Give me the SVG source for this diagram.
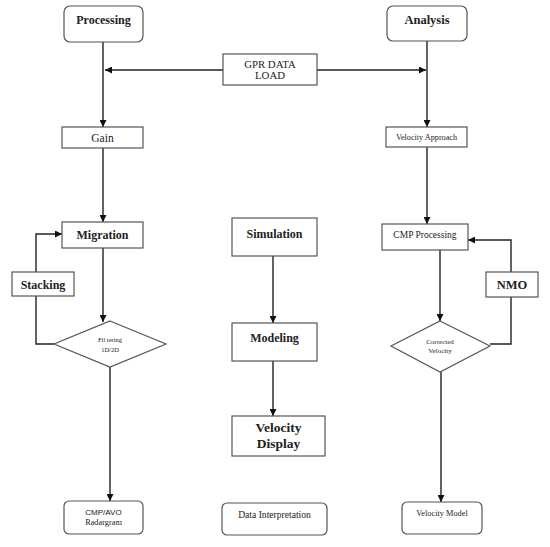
<svg xmlns="http://www.w3.org/2000/svg" width="550" height="547" viewBox="0 0 550 547">
<style>
.box{fill:#fff;stroke:#555;stroke-width:1.2}
.t{font-family:"Liberation Serif","Times New Roman",serif;fill:#222;text-anchor:middle}
.b{font-weight:bold}
.s{font-family:"Liberation Sans",Arial,sans-serif}
.c line,.c polyline{stroke:#222;stroke-width:1.4;fill:none}
</style>
<defs>
<marker id="ah" viewBox="0 0 10 10" refX="10" refY="5" markerWidth="7" markerHeight="7" markerUnits="userSpaceOnUse" orient="auto">
<path d="M0,0L10,5L0,10z" fill="#111"/>
</marker>
</defs>
<rect width="550" height="547" fill="#fff"/>
<g class="c">
<line x1="103" y1="42" x2="103" y2="127" marker-end="url(#ah)"/>
<line x1="223" y1="70" x2="105" y2="70" marker-end="url(#ah)"/>
<line x1="317" y1="70" x2="426" y2="70" marker-end="url(#ah)"/>
<line x1="427" y1="41" x2="427" y2="127" marker-end="url(#ah)"/>
<line x1="103" y1="148" x2="103" y2="222" marker-end="url(#ah)"/>
<line x1="103" y1="248" x2="103" y2="322" marker-end="url(#ah)"/>
<polyline points="54,344 36,344 36,234 62,234" marker-end="url(#ah)"/>
<line x1="110" y1="367" x2="110" y2="501" marker-end="url(#ah)"/>
<line x1="273" y1="256" x2="273" y2="323" marker-end="url(#ah)"/>
<line x1="273" y1="361" x2="273" y2="416" marker-end="url(#ah)"/>
<line x1="427" y1="147" x2="427" y2="224" marker-end="url(#ah)"/>
<line x1="440" y1="250" x2="440" y2="321" marker-end="url(#ah)"/>
<polyline points="490,344 511,344 511,240 468,240" marker-end="url(#ah)"/>
<line x1="441" y1="372" x2="441" y2="502" marker-end="url(#ah)"/>
</g>
<g id="processing"><rect class="box" x="64" y="6" width="79" height="36" rx="6"/><text class="t b" x="103.5" y="24" font-size="12">Processing</text></g>
<g id="analysis"><rect class="box" x="387" y="6" width="80" height="35" rx="6"/><text class="t b" x="427" y="24" font-size="12.5">Analysis</text></g>
<g id="gpr"><rect class="box" x="223" y="54" width="94" height="31"/><text class="t" x="270" y="68" font-size="10.8">GPR DATA</text><text class="t" x="270" y="79" font-size="10.8">LOAD</text></g>
<g id="gain"><rect class="box" x="62" y="127" width="81" height="21"/><text class="t" x="102.5" y="142" font-size="11.5">Gain</text></g>
<g id="velapp"><rect class="box" x="386" y="127" width="81" height="20"/><text class="t" x="426.5" y="140" font-size="8.2">Velocity Approach</text></g>
<g id="migration"><rect class="box" x="62" y="222" width="81" height="26"/><text class="t b" x="102.5" y="239" font-size="12">Migration</text></g>
<g id="stacking"><rect class="box" x="12" y="272" width="62" height="24"/><text class="t b" x="43" y="289" font-size="12">Stacking</text></g>
<g id="filtering"><polygon class="box" points="110,321 166,344 110,367 54,344"/><text class="t" x="110" y="342" font-size="6.5">Fil tering</text><text class="t" x="110" y="352" font-size="6.5">1D/2D</text></g>
<g id="simulation"><rect class="box" x="232" y="218" width="85" height="38"/><text class="t b" x="274.5" y="238" font-size="12">Simulation</text></g>
<g id="modeling"><rect class="box" x="232" y="323" width="85" height="38"/><text class="t b" x="274.5" y="342" font-size="12">Modeling</text></g>
<g id="veldisplay"><rect class="box" x="232" y="416" width="93" height="40"/><text class="t b" x="278.5" y="432" font-size="13.5">Velocity</text><text class="t b" x="278.5" y="448" font-size="13.5">Display</text></g>
<g id="cmpproc"><rect class="box" x="382" y="224" width="86" height="26"/><text class="t" x="425" y="238" font-size="9.5">CMP Processing</text></g>
<g id="nmo"><rect class="box" x="486" y="272" width="52" height="25"/><text class="t b" x="512" y="289" font-size="12.5">NMO</text></g>
<g id="corrected"><polygon class="box" points="440,321 490,346 440,372 391,346"/><text class="t" x="440" y="344" font-size="7">Corrected</text><text class="t" x="440" y="353" font-size="7">Velocity</text></g>
<g id="cmpavo"><rect class="box" x="64" y="501" width="79" height="33" rx="5"/><text class="t s" x="103.5" y="515" font-size="8">CMP/AVO</text><text class="t" x="103.5" y="525" font-size="8.3">Radargram</text></g>
<g id="datainterp"><rect class="box" x="222" y="503" width="105" height="32" rx="5"/><text class="t" x="274.5" y="518" font-size="9.6">Data Interpretation</text></g>
<g id="velmodel"><rect class="box" x="402" y="502" width="80" height="32" rx="5"/><text class="t" x="442" y="516" font-size="8.3">Velocity Model</text></g>
</svg>
